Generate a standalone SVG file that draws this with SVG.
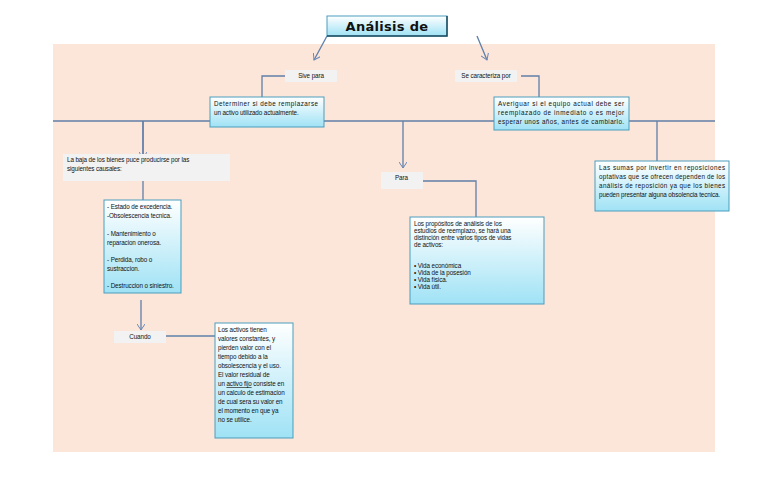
<svg xmlns="http://www.w3.org/2000/svg" width="768" height="497" viewBox="0 0 768 497">
<defs>
<linearGradient id="g" x1="0" y1="0" x2="0" y2="1"><stop offset="0" stop-color="#ffffff"/><stop offset="1" stop-color="#9fe2f5"/></linearGradient>
<marker id="a" markerWidth="8" markerHeight="8" refX="7" refY="4" orient="auto" markerUnits="userSpaceOnUse" viewBox="0 0 8 8"><path d="M1,0 L7,4 L1,8" fill="none" stroke="#6a87b5" stroke-width="1"/></marker>
</defs>
<style>
.box{fill:url(#g);stroke:#4a9dbb;stroke-width:1}
.lbl{fill:#f2f2f2}
.c{fill:none;stroke:#5f7fa8;stroke-width:1.3}
text{font-family:"Liberation Sans",Arial,sans-serif;font-size:6.3px;fill:#111;letter-spacing:-0.1px}
</style>
<rect x="0" y="0" width="768" height="497" fill="#fff"/>
<rect x="53" y="44" width="662" height="408" fill="#fce6da"/>
<g id="connectors">
<path class="c" d="M327,36 L314,60" marker-end="url(#a)"/>
<path class="c" d="M477,36 L487,60" marker-end="url(#a)"/>
<path class="c" d="M285,76 H262 V97"/>
<path class="c" d="M521,76 H539 V97"/>
<path class="c" d="M53,121 H210 M324,121 H494 M629,121 H715"/>
<path class="c" d="M143,121 V205" />
<path class="c" d="M143,121 V158" marker-end="url(#a)"/>
<path class="c" d="M403,121 V168" marker-end="url(#a)"/>
<path class="c" d="M657,121 V161"/>
<path class="c" d="M141,300 V330" marker-end="url(#a)"/>
<path class="c" d="M166,336 H215"/>
<path class="c" d="M423,181 H476 V217"/>
</g>
<g id="title"><rect x="327" y="16" width="120" height="20" class="box" stroke="#3b8fb0"/><path d="M447,16 V36 H327" stroke="#1d4a5e" stroke-width="1.5" fill="none"/><text x="387" y="31" text-anchor="middle" style="font-family:'DejaVu Sans',sans-serif;font-size:13px;font-weight:bold;letter-spacing:0.3px">Análisis de</text></g>
<g id="sive"><rect x="285" y="70" width="52" height="12" class="lbl"/><text x="311" y="78" text-anchor="middle">Sive para</text></g>
<g id="secar"><rect x="455" y="70" width="62" height="12" class="lbl"/><text x="486" y="78" text-anchor="middle">Se caracteriza por</text></g>
<g id="det"><rect x="210" y="97" width="114" height="30" class="box"/><text x="214" y="106" textLength="104">Determiner si debe remplazarse</text><text x="214" y="115">un activo utilizado actualmente.</text></g>
<g id="ave"><rect x="494" y="97" width="135" height="33" class="box"/><text x="498" y="106" textLength="126">Averiguar si el equipo actual debe ser</text><text x="498" y="115" textLength="126">reemplazado de inmediato o es mejor</text><text x="498" y="124" textLength="126">esperar unos años, antes de cambiarlo.</text></g>
<g id="baja"><rect x="63" y="154" width="167" height="27" class="lbl"/><text x="67" y="162">La baja de los bienes puce producirse por las</text><text x="67" y="171">siguientes causales:</text></g>
<g id="causas"><rect x="104" y="200" width="77" height="93" class="box"/>
<text x="107" y="209">- Estado de excedencia.</text><text x="107" y="218">-Obsolescencia tecnica.</text>
<text x="107" y="236">- Mantenimiento o</text><text x="107" y="245">reparacion onerosa.</text>
<text x="107" y="262">- Perdida, robo o</text><text x="107" y="271">sustraccion.</text>
<text x="107" y="288">- Destruccion o siniestro.</text></g>
<g id="cuando"><rect x="114" y="331" width="52" height="12" class="lbl"/><text x="140" y="339" text-anchor="middle">Cuando</text></g>
<g id="activos"><rect x="215" y="323" width="78" height="115" class="box"/>
<text x="218" y="332">Los activos tienen</text><text x="218" y="341">valores constantes, y</text><text x="218" y="350">pierden valor con el</text><text x="218" y="359">tiempo debido a la</text><text x="218" y="368">obsolescencia y el uso.</text><text x="218" y="377">El valor residual de</text><text x="218" y="386">un <tspan text-decoration="underline">activo fijo</tspan> consiste en</text><text x="218" y="395">un calculo de estimacion</text><text x="218" y="404">de cual sera su valor en</text><text x="218" y="413">el momento en que ya</text><text x="218" y="422">no se utilice.</text></g>
<g id="para"><rect x="381" y="172" width="42" height="17" class="lbl"/><text x="395" y="180">Para</text></g>
<g id="prop"><rect x="410" y="217" width="134" height="87" class="box"/>
<text x="414" y="226">Los propósitos de análisis de los</text><text x="414" y="233">estudios de reemplazo, se hará una</text><text x="414" y="240">distinción entre varios tipos de vidas</text><text x="414" y="247">de activos:</text>
<text x="414" y="268">• Vida económica</text><text x="414" y="275">• Vida de la posesión</text><text x="414" y="282">• Vida física.</text><text x="414" y="289">• Vida útil.</text></g>
<g id="sumas"><rect x="595" y="161" width="134" height="50" class="box"/>
<text x="599" y="170" textLength="126">Las sumas por invertir en reposiciones</text><text x="599" y="179" textLength="126">optativas que se ofrecen dependen de los</text><text x="599" y="188" textLength="126">análisis de reposición ya que los bienes</text><text x="599" y="197">pueden presentar alguna obsolencia tecnica.</text></g>
</svg>
